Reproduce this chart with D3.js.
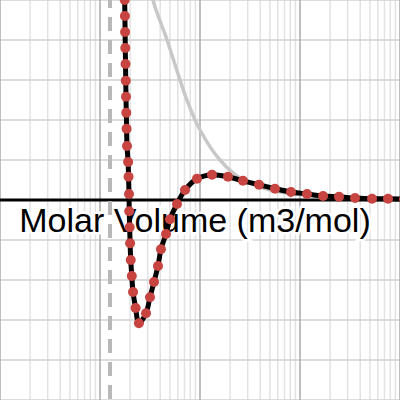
<!DOCTYPE html>
<html><head><meta charset="utf-8">
<script src="https://cdn.jsdelivr.net/npm/d3@7"></script>
<style>body{margin:0;background:#fff}svg{display:block}</style>
</head><body><svg id="c" width="400" height="400"></svg>
<script>
const vdwV = [1.766e-4,1.774e-4,1.782e-4,1.79e-4,1.80e-4,1.81e-4,1.82e-4,1.832e-4,1.845e-4,1.862e-4,1.91e-4,1.93e-4,1.95e-4,1.96e-4,1.98e-4,2.0e-4,2.03e-4,2.08e-4,2.14e-4,2.27e-4,2.45e-4,2.884e-4,3.162e-4,3.467e-4,3.80e-4,4.07e-4,4.57e-4,5.01e-4,5.89e-4,7.08e-4,9.33e-4,1.318e-3,1.905e-3,2.69e-3,3.89e-3,5.62e-3,8.13e-3,1.175e-2,1.70e-2,2.455e-2,3.55e-2,5.25e-2,7.59e-2,0.1096];
const vdwP = [5,4.6,4.2,3.8,3.4,2.98,2.58,2.18,1.78,1.35,0.95,0.58,0.15,-0.28,-0.68,-1.08,-1.5,-1.9,-2.3,-2.7,-3.08,-2.83,-2.43,-2.05,-1.65,-1.23,-0.85,-0.48,-0.1,0.25,0.53,0.63,0.58,0.48,0.38,0.28,0.2,0.15,0.1,0.08,0.05,0.03,0.03,0.02];
const idealV = [3.0e-4,3.39e-4,4.68e-4,7.41e-4,1e-3,1.585e-3,2.51e-3,5.01e-3,1e-2,3.16e-2,0.1,0.12];
const idealP = [5.8,5,4,2.5,1.75,1.0,0.55,0.25,0.14,0.05,0.02,0.015];
const bV = 1.259e-4;
const xLabel = "Molar Volume (m3/mol)";

const svg = d3.select("#c");
const x = d3.scaleLog().domain([1e-5,1e-1]).range([0,400]);
const y = d3.scaleLinear().domain([-5,5]).range([400,0]);
const g = svg.append("g");
const minor=[]; for(let e=-6;e<=-1;e++) for(let k=2;k<=9;k++) minor.push(k*Math.pow(10,e));
g.selectAll(".mv").data(minor).join("line").attr("x1",d=>x(d)).attr("x2",d=>x(d)).attr("y1",0).attr("y2",400).attr("stroke","#e2e2e2").attr("stroke-width",1.5);
g.selectAll(".hy").data(d3.range(-5,6)).join("line").attr("y1",d=>y(d)).attr("y2",d=>y(d)).attr("x1",0).attr("x2",400).attr("stroke","#d0d0d0").attr("stroke-width",1.5);
g.selectAll(".dv").data([1e-5,1e-4,1e-3,1e-2,1e-1]).join("line").attr("x1",d=>x(d)).attr("x2",d=>x(d)).attr("y1",0).attr("y2",400).attr("stroke","#a8a8a8").attr("stroke-width",1.5);
svg.append("line").attr("x1",0).attr("x2",400).attr("y1",y(0)).attr("y2",y(0)).attr("stroke","#000").attr("stroke-width",3);
svg.append("text").attr("x",195).attr("y",232).attr("text-anchor","middle").attr("font-family","Liberation Sans, Arial").attr("font-size",34)
 .attr("stroke","#fff").attr("stroke-width",5).attr("paint-order","stroke").attr("fill","#000").text(xLabel);
svg.append("line").attr("x1",x(bV)).attr("x2",x(bV)).attr("y1",-6).attr("y2",400).attr("stroke","#b8b8b8").attr("stroke-width",4).attr("stroke-dasharray","14,9");
const line=d3.line().x(d=>x(d[0])).y(d=>y(d[1])).curve(d3.curveCatmullRom);
svg.append("path").attr("d",line(d3.zip(idealV,idealP))).attr("fill","none").attr("stroke","#c8c8c8").attr("stroke-width",3.5);
const vdw=d3.zip(vdwV,vdwP);
svg.append("path").attr("d",line([[1.74e-4,6]].concat(vdw))).attr("fill","none").attr("stroke","#000").attr("stroke-width",5);
svg.selectAll(".pt").data(vdw).join("circle").attr("cx",d=>x(d[0])).attr("cy",d=>y(d[1])).attr("r",5).attr("fill","#c74440");
</script></body></html>
